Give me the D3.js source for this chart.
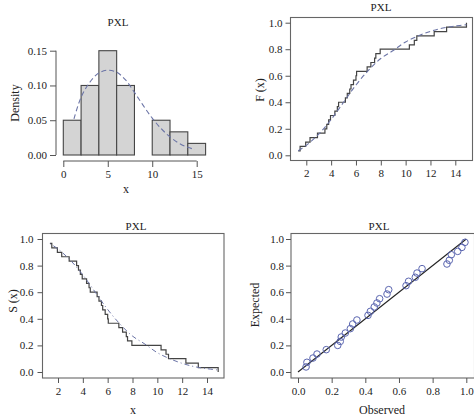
<!DOCTYPE html>
<html><head><meta charset="utf-8">
<script src="https://cdn.jsdelivr.net/npm/d3@7"></script>
<style>
body{margin:0;background:#fff;}
svg{display:block;font-family:"Liberation Serif","DejaVu Serif",serif;}
</style></head>
<body>
<svg id="c" width="474" height="417"></svg>
<script>
// ---------- data ----------
const histBreaks = [0, 2, 4, 6, 8, 10, 12, 14, 16];
const histDensity = [0.05, 0.10, 0.15, 0.10, 0.00, 0.05, 0.0333, 0.0167];
const densX = [1.2, 2, 3, 4, 5, 6, 7, 8, 9, 10, 11, 12, 13, 14, 14.8];
const densY = [0.052, 0.083, 0.105, 0.118, 0.122, 0.119, 0.108, 0.090, 0.071, 0.053, 0.038, 0.026, 0.017, 0.011, 0.008];
const sample = [1.35, 1.5, 1.95, 2.3, 2.9, 3.5, 3.65, 3.8, 3.95, 4.3, 4.5, 4.6, 5.15, 5.3, 5.5,
                5.6, 5.8, 6.0, 6.05, 6.9, 7.2, 7.5, 7.6, 7.95, 10.3, 10.7, 10.9, 12.3, 13.3, 14.9];
const cdfX = [1.35, 2, 3, 4, 5, 6, 7, 8, 9, 10, 11, 12, 13, 14, 14.9];
const cdfY = [0.035, 0.075, 0.16, 0.27, 0.40, 0.53, 0.64, 0.73, 0.79, 0.855, 0.90, 0.935, 0.96, 0.975, 0.985];
const ppObserved = [0.048, 0.053, 0.089, 0.113, 0.168, 0.236, 0.251, 0.257, 0.281, 0.311, 0.325, 0.350, 0.416, 0.430, 0.453,
                    0.469, 0.485, 0.529, 0.539, 0.642, 0.657, 0.697, 0.707, 0.737, 0.885, 0.899, 0.911, 0.949, 0.974, 0.992];
const ppExpected = [0.038, 0.073, 0.105, 0.135, 0.168, 0.200, 0.230, 0.263, 0.293, 0.326, 0.361, 0.391, 0.426, 0.456, 0.489,
                    0.519, 0.551, 0.586, 0.619, 0.649, 0.682, 0.712, 0.744, 0.777, 0.812, 0.840, 0.882, 0.907, 0.937, 0.975];
const histXTicks = [0, 5, 10, 15];
const histYTicks = [0, 0.05, 0.10, 0.15];
const ecdfXTicks = [2, 4, 6, 8, 10, 12, 14];
const probTicks = [0, 0.2, 0.4, 0.6, 0.8, 1.0];
const title = "PXL";

// ---------- styles ----------
const axisCol = "#555", textCol = "#222", curveCol = "#6b74a6", stepCol = "#444", ptCol = "#5b66b0";
const svg = d3.select("#c");

function styleAxis(g, fs) {
  g.selectAll("line").attr("stroke", axisCol);
  g.selectAll("path.domain").remove();
  g.selectAll("text").attr("fill", textCol).style("font-size", fs + "px").style("font-family", "Liberation Serif, serif");
}
function addText(x, y, t, size, rot) {
  const el = svg.append("text").attr("fill", textCol).style("font-size", size + "px")
    .attr("text-anchor", "middle").text(t);
  if (rot) el.attr("transform", `translate(${x},${y}) rotate(-90)`).attr("dy", "0.35em");
  else el.attr("x", x).attr("y", y).attr("dy", "0.35em");
}
function box(l, r, t, b) {
  svg.append("rect").attr("x", l).attr("y", t).attr("width", r - l).attr("height", b - t)
    .attr("fill", "none").attr("stroke", "#666").attr("stroke-width", 1.1);
}

// ---------- panel 1: histogram ----------
{
  const x = d3.scaleLinear().domain([0, 15]).range([63.3, 196.7]);
  const y = d3.scaleLinear().domain([0, 0.15]).range([155, 50.7]);
  const bins = histDensity.map((d, i) => ({x0: histBreaks[i], x1: histBreaks[i + 1], d}));
  svg.append("g").selectAll("rect").data(bins.filter(b => b.d > 0)).join("rect")
    .attr("x", b => x(b.x0)).attr("width", b => x(b.x1) - x(b.x0))
    .attr("y", b => y(b.d)).attr("height", b => y(0) - y(b.d))
    .attr("fill", "#d4d4d4").attr("stroke", "#454545").attr("stroke-width", 1.1);
  svg.append("path").datum(densX.map((v, i) => [v, densY[i]]))
    .attr("d", d3.line().x(d => x(d[0])).y(d => y(d[1])).curve(d3.curveCatmullRom))
    .attr("fill", "none").attr("stroke", curveCol).attr("stroke-width", 1.1).attr("stroke-dasharray", "5,3");
  const ya = svg.append("g").attr("transform", "translate(56,0)")
    .call(d3.axisLeft(y).tickValues(histYTicks).tickFormat(d3.format(".2f")).tickSize(6).tickPadding(3));
  styleAxis(ya, 11);
  ya.append("line").attr("y1", y(0)).attr("y2", y(0.15)).attr("stroke", axisCol);
  const xa = svg.append("g").attr("transform", "translate(0,161)")
    .call(d3.axisBottom(x).tickValues(histXTicks).tickFormat(d3.format("d")).tickSize(6).tickPadding(3));
  styleAxis(xa, 11);
  xa.append("line").attr("x1", x(0)).attr("x2", x(15)).attr("stroke", axisCol);
  addText(118, 22, title, 11);
  addText(15, 103, "Density", 12, true);
  addText(126, 189, "x", 12);
}

// ---------- panel 2: CDF ----------
{
  const x = d3.scaleLinear().domain([2, 14]).range([306.3, 455.3]);
  const y = d3.scaleLinear().domain([0, 1]).range([155.3, 22.7]);
  const n = sample.length;
  const steps = sample.map((v, i) => [v, (i + 1) / n]);
  svg.append("path").datum(steps)
    .attr("d", d3.line().x(d => x(d[0])).y(d => y(d[1])).curve(d3.curveStepAfter))
    .attr("fill", "none").attr("stroke", stepCol).attr("stroke-width", 1.2);
  svg.append("path").datum(cdfX.map((v, i) => [v, cdfY[i]]))
    .attr("d", d3.line().x(d => x(d[0])).y(d => y(d[1])).curve(d3.curveCatmullRom))
    .attr("fill", "none").attr("stroke", curveCol).attr("stroke-width", 1.1).attr("stroke-dasharray", "5,3");
  box(290.5, 472.5, 17.5, 160.5);
  const ya = svg.append("g").attr("transform", "translate(290.5,0)")
    .call(d3.axisLeft(y).tickValues(probTicks).tickFormat(d3.format(".1f")).tickSize(5).tickPadding(3));
  styleAxis(ya, 11);
  const xa = svg.append("g").attr("transform", "translate(0,160.5)")
    .call(d3.axisBottom(x).tickValues(ecdfXTicks).tickFormat(d3.format("d")).tickSize(5).tickPadding(4));
  styleAxis(xa, 11);
  addText(381, 7, title, 11);
  addText(260, 90, "F (x)", 12, true);
}

// ---------- panel 3: survival ----------
{
  const x = d3.scaleLinear().domain([2, 14]).range([58, 207]);
  const y = d3.scaleLinear().domain([0, 1]).range([372, 239]);
  const n = sample.length;
  const steps = sample.map((v, i) => [v, 1 - (i + 1) / n]);
  svg.append("path").datum(steps)
    .attr("d", d3.line().x(d => x(d[0])).y(d => y(d[1])).curve(d3.curveStepAfter))
    .attr("fill", "none").attr("stroke", stepCol).attr("stroke-width", 1.2);
  svg.append("path").datum(cdfX.map((v, i) => [v, 1 - cdfY[i]]))
    .attr("d", d3.line().x(d => x(d[0])).y(d => y(d[1])).curve(d3.curveCatmullRom))
    .attr("fill", "none").attr("stroke", curveCol).attr("stroke-width", 1).attr("stroke-dasharray", "1,3,5,3");
  box(42.5, 224, 233.5, 378);
  const ya = svg.append("g").attr("transform", "translate(42.5,0)")
    .call(d3.axisLeft(y).tickValues(probTicks).tickFormat(d3.format(".1f")).tickSize(5).tickPadding(4));
  styleAxis(ya, 11);
  const xa = svg.append("g").attr("transform", "translate(0,378)")
    .call(d3.axisBottom(x).tickValues(ecdfXTicks).tickFormat(d3.format("d")).tickSize(5).tickPadding(4));
  styleAxis(xa, 11);
  addText(136, 226, title, 11);
  addText(13, 301, "S (x)", 12, true);
  addText(133, 410, "x", 12);
}

// ---------- panel 4: P-P ----------
{
  const x = d3.scaleLinear().domain([0, 1]).range([298, 466.3]);
  const y = d3.scaleLinear().domain([0, 1]).range([372, 239]);
  svg.append("line").attr("x1", x(0)).attr("y1", y(0)).attr("x2", x(1)).attr("y2", y(1))
    .attr("stroke", "#222").attr("stroke-width", 1.1);
  svg.append("g").selectAll("circle").data(ppObserved.map((v, i) => [v, ppExpected[i]])).join("circle")
    .attr("cx", d => x(d[0])).attr("cy", d => y(d[1])).attr("r", 3.3)
    .attr("fill", "none").attr("stroke", ptCol).attr("stroke-width", 1);
  box(291, 474.5, 233.5, 378);
  const ya = svg.append("g").attr("transform", "translate(291,0)")
    .call(d3.axisLeft(y).tickValues(probTicks).tickFormat(d3.format(".1f")).tickSize(5).tickPadding(2));
  styleAxis(ya, 11);
  const xa = svg.append("g").attr("transform", "translate(0,378)")
    .call(d3.axisBottom(x).tickValues(probTicks).tickFormat(d3.format(".1f")).tickSize(5).tickPadding(4));
  styleAxis(xa, 11);
  addText(379, 226, title, 11);
  addText(255, 305, "Expected", 12, true);
  addText(382, 410, "Observed", 12);
}
</script>
</body></html>
